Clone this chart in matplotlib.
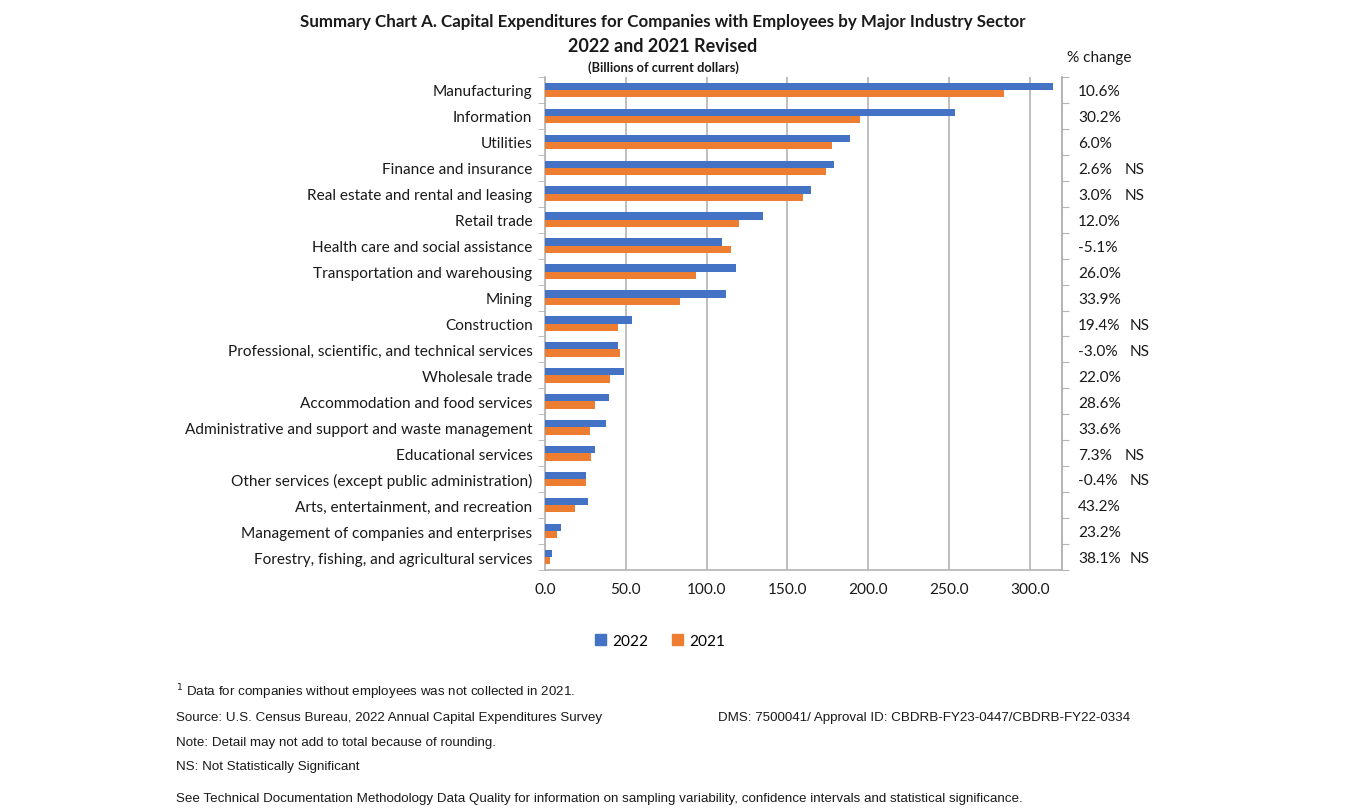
import numpy as np
import matplotlib.pyplot as plt
from matplotlib.patches import Patch

sectors = [
    'Manufacturing', 'Information', 'Utilities', 'Finance and insurance',
    'Real estate and rental and leasing', 'Retail trade',
    'Health care and social assistance', 'Transportation and warehousing',
    'Mining', 'Construction', 'Professional, scientific, and technical services',
    'Wholesale trade', 'Accommodation and food services',
    'Administrative and support and waste management', 'Educational services',
    'Other services (except public administration)',
    'Arts, entertainment, and recreation',
    'Management of companies and enterprises',
    'Forestry, fishing, and agricultural services',
]
values_2022 = [314.2, 254.0, 188.5, 178.7, 164.9, 134.9, 109.4, 118.4, 112.3,
               53.6, 45.0, 49.2, 39.7, 37.7, 30.8, 25.1, 26.4, 9.6, 4.1]
values_2021 = [284.3, 195.0, 177.6, 174.1, 159.8, 120.3, 115.3, 93.7, 83.7,
               45.0, 46.4, 40.4, 31.0, 28.0, 28.7, 25.3, 18.6, 7.7, 2.9]
pct_change = ['10.6%', '30.2%', '6.0%', '2.6%', '3.0%', '12.0%', '-5.1%',
              '26.0%', '33.9%', '19.4%', '-3.0%', '22.0%', '28.6%', '33.6%',
              '7.3%', '-0.4%', '43.2%', '23.2%', '38.1%']
not_significant = [False, False, False, True, True, False, False, False, False,
                   True, True, False, False, False, True, True, False, False, True]

BLUE = '#4472C4'
ORANGE = '#ED7D31'
GRID = '#b3b3b3'
INK = '#1a1a1a'
FONT = ['Lato', 'DejaVu Sans']
NARROW = ['Liberation Sans Narrow', 'Liberation Sans', 'DejaVu Sans']
FS = 11.1

fig = plt.figure(figsize=(13.5, 8.12), dpi=100)
W, H = 1350, 812
ax = fig.add_axes([545 / W, 1 - 571 / H, (1062 - 545) / W, (571 - 78) / H])

n = len(sectors)
y = np.arange(n)
bh = 0.28
ax.barh(y - bh / 2, values_2022, height=bh, color=BLUE, zorder=3)
ax.barh(y + bh / 2, values_2021, height=bh, color=ORANGE, zorder=3)

ax.set_xlim(0, 320)
ax.set_ylim(n - 0.5, -0.5)
ax.set_xticks(np.arange(0, 301, 50))
ax.set_xticklabels([f'{v:.1f}' for v in np.arange(0, 301, 50)],
                   fontsize=FS, family=FONT, color=INK)
ax.xaxis.grid(True, color=GRID, linewidth=1.2, zorder=0)
ax.tick_params(axis='x', length=0, pad=9)

# category labels, with small ticks on the band boundaries
ax.set_yticks(y)
ax.set_yticklabels(sectors, fontsize=FS, family=FONT, color=INK)
ax.tick_params(axis='y', which='major', length=0, pad=9)
ax.set_yticks(np.arange(-0.5, n, 1), minor=True)
ax.tick_params(axis='y', which='minor', length=5, color=GRID, direction='out')

ax.spines['top'].set_visible(False)
for side in ['left', 'bottom', 'right']:
    ax.spines[side].set_color(GRID)
    ax.spines[side].set_linewidth(1.2)

# right-hand % change column
ax_r = ax.twinx()
ax_r.set_ylim(ax.get_ylim())
ax_r.set_yticks(np.arange(-0.5, n, 1))
ax_r.set_yticklabels([])
ax_r.tick_params(axis='y', length=5, color=GRID, direction='out')
for side in ['top', 'left', 'bottom']:
    ax_r.spines[side].set_visible(False)
ax_r.spines['right'].set_color(GRID)
ax_r.spines['right'].set_linewidth(1.2)

for i, (pc, ns) in enumerate(zip(pct_change, not_significant)):
    ax.text(1.031, i + 0.05, pc, transform=ax.get_yaxis_transform(), ha='left',
            va='center', fontsize=FS, family=FONT, color=INK)
    if ns:
        xs = 1.121 if len(pc) < 5 else 1.131
        ax.text(xs, i + 0.05, 'NS', transform=ax.get_yaxis_transform(), ha='left',
                va='center', fontsize=FS, family=FONT, color=INK)

fig.text(1067 / W, 1 - 58 / H, '% change', fontsize=FS, family=FONT,
         color=INK, va='center')

# titles
fig.text(663 / W, 1 - 22 / H,
         'Summary Chart A. Capital Expenditures for Companies with Employees by Major Industry Sector',
         ha='center', va='center', fontsize=12.2, fontweight='bold', family=FONT, color=INK)
fig.text(663 / W, 1 - 46 / H, '2022 and 2021 Revised', ha='center', va='center',
         fontsize=13, fontweight='bold', family=FONT, color=INK)
fig.text(663 / W, 1 - 68 / H, '(Billions of current dollars)', ha='center',
         va='center', fontsize=9.3, fontweight='bold', family=FONT, color=INK)

# legend
handles = [Patch(color=BLUE, label='2022'), Patch(color=ORANGE, label='2021')]
fig.legend(handles=handles, loc='center', bbox_to_anchor=(660 / W, 1 - 642 / H),
           ncol=2, frameon=False, prop={'family': FONT, 'size': FS},
           handlelength=0.7, handleheight=0.7, handletextpad=0.4, columnspacing=1.6)

# footnotes
foot = dict(fontsize=9.6, family=NARROW, color=INK, va='center', ha='left')
fig.text(176 / W, 1 - 692 / H, r'$^1$ Data for companies without employees was not collected in 2021.', **foot)
fig.text(176 / W, 1 - 718 / H, 'Source: U.S. Census Bureau, 2022 Annual Capital Expenditures Survey', **foot)
fig.text(718 / W, 1 - 718 / H, 'DMS: 7500041/ Approval ID: CBDRB-FY23-0447/CBDRB-FY22-0334', **foot)
fig.text(176 / W, 1 - 743 / H, 'Note: Detail may not add to total because of rounding.', **foot)
fig.text(176 / W, 1 - 767 / H, 'NS: Not Statistically Significant', **foot)
fig.text(176 / W, 1 - 799 / H,
         'See Technical Documentation Methodology Data Quality for information on sampling variability, confidence intervals and statistical significance.',
         **foot)

fig.savefig('out.png', dpi=100, facecolor='white')
